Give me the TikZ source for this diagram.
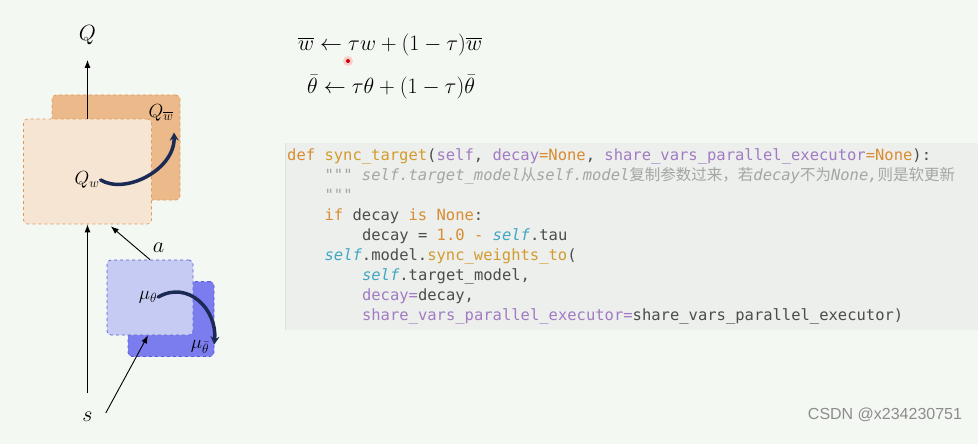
\RequirePackage{fix-cm}
\documentclass[tikz,border=0pt]{standalone}
\usepackage{amsmath}
\usepackage{fontspec}
\setmonofont{DejaVu Sans Mono}
\setsansfont{Liberation Sans}
\newfontfamily\cjk{Noto Sans CJK SC}
\usetikzlibrary{
  positioning,
  arrows.meta,
  calc
}
\definecolor{bgcol}{HTML}{F4F8F3}
\definecolor{codebg}{HTML}{ECEFEB}
\definecolor{qdark}{HTML}{EBB98A}
\definecolor{qlight}{HTML}{F5E5D2}
\definecolor{qedge}{HTML}{E09A58}
\definecolor{mulight}{HTML}{C6CBF3}
\definecolor{mudark}{HTML}{7B7DEF}
\definecolor{muedge}{HTML}{5A5AD8}
\definecolor{navy}{HTML}{1B2A55}
\definecolor{kwcol}{HTML}{D98C33}
\definecolor{fncol}{HTML}{D49A2E}
\definecolor{argcol}{HTML}{A27BC4}
\definecolor{selfcol}{HTML}{3FA6C4}
\definecolor{cmtcol}{HTML}{A3A6A3}
\definecolor{txtcol}{HTML}{4A4D4A}
\tikzset{
  panel/.style={
    draw,
    dashed,
    rounded corners=4pt,
    line width=0.7pt,
    minimum width=128pt,
    minimum height=105pt,
  },
  qpanel/.style={
    panel,
    draw=qedge,
  },
  mupanel/.style={
    panel,
    draw=muedge,
    minimum width=86pt,
    minimum height=75pt,
  },
  lbl/.style={
    font=\fontsize{19}{22}\selectfont,
    inner sep=1pt,
  },
  biglbl/.style={
    font=\fontsize{22}{26}\selectfont,
    inner sep=0pt,
  },
  flow/.style={
    -{Latex[length=8pt,width=6pt]},
    line width=0.9pt,
  },
  sync/.style={
    -{Stealth[length=8pt,width=9pt]},
    line width=3.5pt,
    draw=navy,
    line cap=round,
  },
  codeline/.style={
    anchor=base west,
    inner sep=0pt,
    font=\ttfamily\fontsize{15.5}{20}\selectfont,
    text=txtcol,
  },
}
\newcommand{\kw}[1]{\textcolor{kwcol}{#1}}
\newcommand{\fn}[1]{\textcolor{fncol}{#1}}
\newcommand{\pa}[1]{\textcolor{argcol}{#1}}
\newcommand{\slf}{\textcolor{selfcol}{\itshape self}}

\begin{document}
\begin{tikzpicture}[x=1pt,y=-1pt]
	\def\cw{9.36}
	\fill[bgcol] (0,0) rectangle (978,444);
	\useasboundingbox (0,0) rectangle (978,444);

	% critic and actor panels
	\node[qpanel,fill=qdark] (qwbar) at (116,147.5) {};
	\node[qpanel,fill=qlight] (qw) at (87.5,171.5) {};
	\node[mupanel,fill=mudark] (mubar) at (171,319) {};
	\node[mupanel,fill=mulight] (mu) at (150,297.5) {};

	\node[lbl] (qwl) at (87,180) {$Q_w$};
	\node[lbl] (qwbl) at (161,113) {$Q_{\overline{w}}$};
	\node[lbl] (mul) at (148,297) {$\mu_\theta$};
	\node[lbl] (mubl) at (200,347) {$\mu_{\bar\theta}$};

	\node[biglbl] (Q) at (87.5,35) {$Q$};
	\node[biglbl] (s) at (87.5,417) {$s$};

	% edges
	\draw[flow, shorten >=15pt] (qw.north) -- (Q);
	\draw[flow, shorten <=19pt] (s) -- (qw.south);
	\draw[flow] ([xshift=13pt,yshift=4pt]s.east) -- ([xshift=-2pt]mu.south);
	\draw[flow, shorten >=3pt] (mu.north) -- ([xshift=21pt]qw.south)
		node[biglbl, pos=0.35, right=17pt] (a) {$a$};

	\draw[sync] (qwl.east) .. controls +(25,15) and +(1,37) .. ([xshift=13pt,yshift=-10pt]qwbl.south);
	\draw[sync] (mul.east) .. controls +(30,-17) and +(3,-35) .. ([xshift=4pt,yshift=-5pt]mubl.north east);

	% soft update rules
	\node[biglbl] (upw) at (390,45) {$\overline{w} \leftarrow \tau w + (1-\tau)\overline{w}$};
	\node[biglbl] (upth) at (391,87) {$\bar\theta \leftarrow \tau\theta + (1-\tau)\bar\theta$};
	\fill[red!30, opacity=0.6] (348,61) circle (5);
	\fill[red!80!black] (348,61) circle (2);

	% code block
	\fill[codebg] (285,143) rectangle (978,330);
	\draw[black!12] (285,143) -- (285,330);
	\node[codeline] (c1) at (287,160) {\kw{def} \fn{sync\_target}(\pa{self}, \pa{decay}\kw{=None}, \pa{share\_vars\_parallel\_executor}\kw{=None}):};
	\node[codeline,text=cmtcol] (c2) at (287+4*\cw,180) {"""\ {\itshape self.target\_model}{\cjk 从}{\itshape self.model}{\cjk 复制参数过来，若}{\itshape decay}{\cjk 不为}{\itshape None,}{\cjk 则是软更新}};
	\node[codeline,text=cmtcol] (c3) at (287+4*\cw,200) {"""};
	\node[codeline] (c4) at (287+4*\cw,220) {\kw{if} decay \kw{is None}:};
	\node[codeline] (c5) at (287+8*\cw,240) {decay = \kw{1.0 -} \slf.tau};
	\node[codeline] (c6) at (287+4*\cw,260) {\slf.model.\fn{sync\_weights\_to}(};
	\node[codeline] (c7) at (287+8*\cw,280) {\slf.target\_model,};
	\node[codeline] (c8) at (287+8*\cw,300) {\pa{decay=}decay,};
	\node[codeline] (c9) at (287+8*\cw,320) {\pa{share\_vars\_parallel\_executor=}share\_vars\_parallel\_executor)};

	\node[font=\sffamily\fontsize{16}{18}\selectfont, text=black!45] (mark) at (885,415) {CSDN @x234230751};
\end{tikzpicture}
\end{document}
